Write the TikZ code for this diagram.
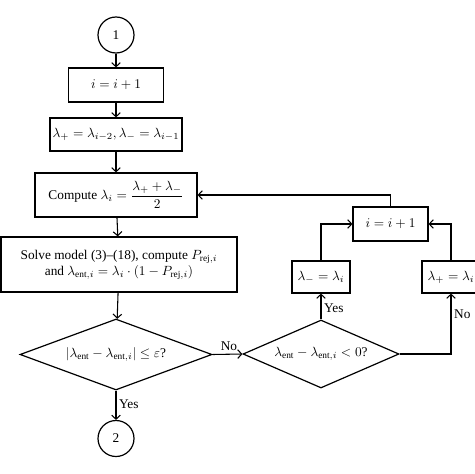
\documentclass[tikz,border=0pt]{standalone}
\usepackage{amsmath}
\usepackage{fontspec}
\setmainfont{Liberation Serif}
\usetikzlibrary{shapes.geometric,arrows.meta}
\begin{document}
\begin{tikzpicture}[x=0.75pt,y=-0.75pt,
  every node/.style={font=\fontsize{10pt}{12pt}\selectfont},
  box/.style={draw,line width=0.9pt,inner sep=2pt},
  term/.style={draw,circle,line width=0.9pt,minimum size=27pt,inner sep=0pt},
  dia/.style={draw,diamond,line width=0.9pt,inner sep=0pt},
  conn/.style={line width=0.8pt,-{Straight Barb[length=3pt,width=6.5pt]}},
  lbl/.style={font=\fontsize{10pt}{12pt}\selectfont,inner sep=2pt}]
\useasboundingbox (0,0) rectangle (474,474);
\node[term] (c1) at (116,35) {1};
\node[box,minimum width=71.25pt,minimum height=25.5pt] (inc) at (116,85) {$i=i+1$};
\node[box,minimum width=93.75pt,minimum height=24.75pt] (init) at (116,134.5) {$\lambda_+=\lambda_{i-2},\lambda_-=\lambda_{i-1}$};
\node[box,minimum width=121.5pt,minimum height=33pt] (comp) at (116,195) {Compute $\lambda_i=\dfrac{\lambda_++\lambda_-}{2}$};
\node[box,minimum width=177pt,minimum height=41.25pt,align=center] (solve) at (119,264.5) {Solve model (3)--(18), compute $P_{\mathrm{rej},i}$\\and $\lambda_{\mathrm{ent},i}=\lambda_i\cdot(1-P_{\mathrm{rej},i})$};
\node[dia,aspect=2.7,minimum width=144pt,minimum height=53.25pt] (d1) at (116,354.5) {$|\lambda_{\mathrm{ent}}-\lambda_{\mathrm{ent},i}|\le\varepsilon$?};
\node[term] (c2) at (116,438.5) {2};
\node[dia,aspect=2.3,minimum width=117pt,minimum height=51pt] (d2) at (321,354) {$\lambda_{\mathrm{ent}}-\lambda_{\mathrm{ent},i}<0$?};
\node[box,minimum width=43.5pt,minimum height=24pt] (lm) at (321,277) {$\lambda_-=\lambda_i$};
\node[box,minimum width=43.5pt,minimum height=24pt] (lp) at (451,277) {$\lambda_+=\lambda_i$};
\node[box,minimum width=56.25pt,minimum height=25.5pt] (inc2) at (390.5,224) {$i=i+1$};
\draw[conn] (c1) -- (inc);
\draw[conn] (inc) -- (init);
\draw[conn] (init) -- (comp);
\draw[conn] (comp) -- (solve);
\draw[conn] (solve) -- (d1);
\draw[conn] (d1) -- node[lbl,right,pos=0.45]{Yes} (c2);
\draw[conn] (d1.east) -- node[lbl,above,pos=0.55]{No} (d2.west);
\draw[conn] (d2.north) -- node[lbl,right,pos=0.45]{Yes} (lm.south);
\draw[conn] (d2.east) -| node[lbl,right,pos=0.83]{No} (lp.south);
\draw[conn] (lm.north) |- (inc2.west);
\draw[conn] (lp.north) |- (inc2.east);
\draw[conn] (inc2.north) |- (comp.east);
\end{tikzpicture}
\end{document}
